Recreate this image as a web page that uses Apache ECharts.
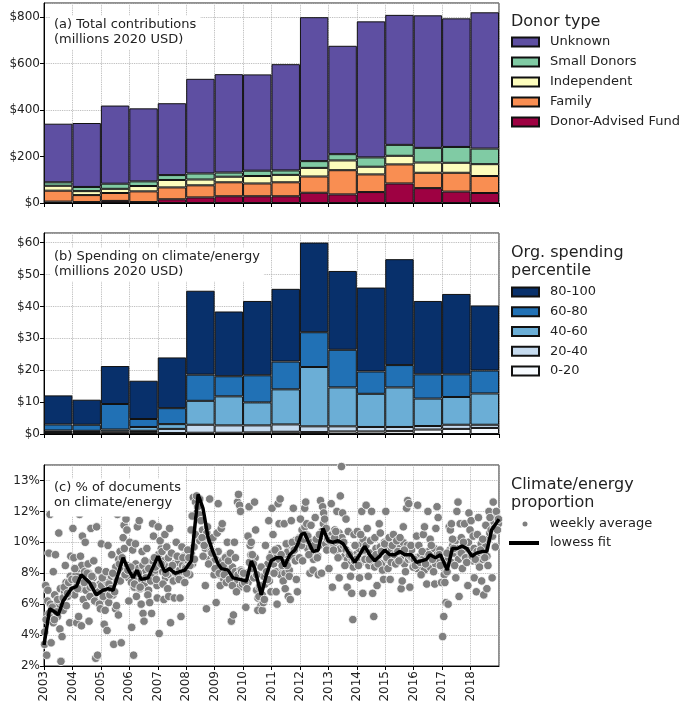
<!DOCTYPE html>
<html><head><meta charset="utf-8">
<script src="https://cdn.jsdelivr.net/npm/echarts@6/dist/echarts.min.js"></script>
<style>html,body{margin:0;padding:0;background:#fff}#c{width:685px;height:713px}</style>
</head><body><div id="c"></div>
<script>
const years = ['2003','2004','2005','2006','2007','2008','2009','2010','2011','2012','2013','2014','2015','2016','2017','2018'];

// Panel (a) Total contributions, millions 2020 USD
const dafVals     = [6, 4, 9, 4, 16, 24, 29, 29, 29, 44, 37, 47, 84, 64, 49, 43];
const familyVals  = [47, 30, 34, 46, 51, 52, 60, 55, 60, 70, 104, 76, 82, 66, 81, 73];
const indepVals   = [21, 17, 18, 23, 32, 25, 24, 32, 32, 37, 42, 33, 37, 44, 43, 51];
const smallVals   = [15, 18, 22, 20, 21, 26, 18, 23, 19, 29, 27, 40, 47, 63, 68, 67];
const unknownVals = [252, 275, 336, 314, 309, 407, 423, 414, 457, 619, 466, 585, 559, 570, 553, 586];

// Panel (b) Spending on climate/energy by org. spending percentile
const p0_20   = [0.2, 0.2, 0.4, 0.6, 0.3, 0.4, 0.4, 0.5, 0.7, 0.6, 0.8, 0.8, 0.9, 1.4, 1.6, 1.9];
const p20_40  = [0.4, 0.4, 0.4, 0.4, 1.3, 2.5, 2.3, 2.2, 2.3, 1.8, 1.6, 1.4, 1.3, 1.1, 1.3, 1.0];
const p40_60  = [0.5, 0.4, 0.6, 1.2, 1.5, 7.5, 9.1, 7.2, 11.0, 18.6, 12.2, 10.4, 12.4, 8.6, 8.7, 9.8];
const p60_80  = [1.9, 1.9, 8.0, 2.5, 5.0, 8.2, 6.3, 8.5, 8.7, 10.9, 11.8, 7.0, 7.0, 7.6, 7.1, 7.2];
const p80_100 = [9.1, 7.85, 11.9, 12.0, 15.9, 26.3, 20.3, 23.3, 22.8, 28.1, 24.7, 26.3, 33.2, 23.0, 25.2, 20.4];

// Panel (c) weekly averages (% of documents on climate/energy), per year, chronological within the year
const weeklyYears = [2003,2004,2005,2006,2007,2008,2009,2010,2011,2012,2013,2014,2015,2016,2017,2018];
const weeklyVals = [
  [3.4,7.2,2.7,6.9,9.3,11.8,3.5,5.8,8.1,5.0,9.2,5.5,6.3,10.6,4.4,2.3,3.9,6.4,7.1,8.5,5.9,6.7,7.4,4.8,9.1,7.6],
  [10.9,9.0,8.3,7.6,4.8,7.0,5.2,11.8,9.1,4.6,10.4,6.3,7.4,10.0,5.9,8.0,8.6,4.9,6.5,10.9,7.8,7.2,8.8,6.2,2.5,11.0,2.7,8.2,6.0,5.7],
  [9.9,7.7,6.5,4.7,5.6,8.1,4.3,9.8,7.3,6.6,7.0,9.2,8.0,3.4,6.8,5.7,5.9,11.8,5.3,8.6,7.5,3.5,9.0,10.3,11.1,7.9,11.5,10.8,8.2,6.2],
  [10.0,8.4,4.5,9.5,2.7,7.3,9.9,6.5,11.0,8.0,11.4,7.1,6.0,9.4,5.4,4.9,8.8,7.7,9.6,6.6,8.3,6.1,7.5,5.4,11.2,10.4,9.0,8.4,7.6,6.4],
  [11.0,4.1,10.1,8.6,9.4,7.3,6.3,10.5,8.0,9.7,7.0,6.5,10.9,4.8,9.3,8.5,7.5,6.4,13.2,10.0,9.1,7.9,7.6,6.4,5.2,9.7,9.0,8.1,7.4,8.3],
  [8.0,9.5,9.0,8.5,10.8,11.7,12.9,8.9,12.6,13.0,12.3,11.8,10.1,11.4,10.3,9.1,9.8,7.2,5.7,11.0,8.6,12.8,10.1,9.3,10.3,7.9],
  [8.3,6.1,10.6,12.5,8.0,7.2,10.9,11.2,8.5,7.9,9.0,7.4,10.0,8.8,7.6,9.3,4.9,7.2,5.3,10.0,9.0,6.8,12.6,13.1,12.4,12.0,8.1,7.3],
  [8.0,7.4,5.8,7.0,10.4,12.3,9.8,10.0,9.2,8.6,12.6,10.8,7.9,5.6,6.5,7.2,8.4,5.6,6.1,6.3,9.8,8.1,7.6,11.4,9.0,6.8],
  [12.2,10.5,8.0,9.5,6.8,6.0,12.5,11.2,12.8,9.2,8.5,7.5,11.2,7.0,9.9,8.5,6.5,7.8,6.3,11.4,10.0,12.2,9.5,8.8,7.6,6.8,10.2,9.0],
  [11.5,9.8,8.8,10.2,12.2,12.6,11.2,10.4,9.2,8.0,11.1,10.0,8.2,9.8,11.6,10.2,9.0,7.9,10.5,12.7,8.0,12.3,11.9,11.5,9.9,9.5,10.2],
  [8.3,10.1,12.5,7.1,9.5,10.3,10.7,12.0,9.0,7.7,13.0,14.9,11.9,10.0,8.5,11.5,7.1,10.7,9.2,7.8,6.7,5.0,10.5,9.8,8.9],
  [10.7,8.5,7.7,10.5,12.0,6.7,9.5,8.9,12.4,10.9,7.8,8.9,10.1,12.0,6.7,5.2,10.3,9.2,7.2,8.6,11.2,10.6,9.4,8.2,7.6,9.9],
  [12.0,9.0,8.3,10.3,7.6,8.7,9.8,10.5,9.2,8.6,10.1,9.4,8.8,10.3,7.0,7.5,11.0,9.5,8.1,12.2,12.7,12.5,7.1,9.8,9.0,8.4],
  [8.9,8.5,10.4,12.4,9.8,8.7,7.9,9.4,10.5,11.0,8.6,7.3,12.0,9.2,10.2,9.8,8.9,8.1,7.3,10.9,12.3,11.6,9.2,8.5,7.4],
  [3.9,5.2,7.4,6.1,9.3,6.0,11.0,10.8,11.2,10.2,9.6,8.5,7.7,12.0,12.6,6.5,11.2,9.3,8.3,10.0,11.2,9.0,8.7,7.2,11.9,10.8],
  [11.4,9.1,10.4,7.7,8.9,6.8,10.5,11.6,8.4,9.5,7.5,10.2,6.6,9.0,11.1,7.0,8.5,12.0,11.6,10.8,7.7,12.6,10.9,9.7,12.0,10.8,11.5]
];
// the denser band of weekly averages lying close to the fit, per year, chronological
const weeklyValsBand = [
  [4.2,5.0,6.2,5.4,6.0,5.1,4.8,6.6,5.9,5.2,6.3,7.0,6.1,5.6,6.8,7.4,6.5,7.2,7.8,6.9],
  [7.5,6.6,7.9,7.2,8.3,7.0,8.5,7.6,8.1,6.9,7.4,8.0,7.1,6.5,7.7,6.3,7.0,6.1,6.8,7.3],
  [7.2,6.4,7.6,6.8,7.4,6.1,7.0,7.8,6.6,7.9,8.4,7.5,8.9,9.4,8.2,8.7,9.6,8.0,8.5,7.7],
  [8.2,7.4,8.0,7.1,8.6,7.8,8.3,7.0,7.6,8.5,7.3,8.1,7.7,6.9,8.4,7.5,8.8,7.9,8.2,7.2],
  [9.2,8.6,9.6,8.1,8.8,7.7,8.4,9.0,7.9,8.3,7.5,8.6,8.0,7.8,8.7,8.2,7.6,8.5,9.1,8.4],
  [8.3,8.8,7.9,9.3,8.6,9.7,10.5,11.9,12.4,12.8,11.6,10.8,10.2,9.6,10.6,9.9,8.9,9.4,8.7,9.1],
  [8.9,8.2,9.4,7.9,8.5,8.8,7.6,8.3,9.1,7.4,8.0,7.7,8.4,7.2,8.1,7.5,7.9,7.1,8.2,7.6],
  [7.6,7.2,8.0,7.4,8.7,9.2,8.3,7.7,9.0,6.9,6.4,7.1,5.9,6.6,7.8,7.3,8.2,8.6,7.5,9.1],
  [9.3,8.6,9.0,8.1,9.6,8.9,7.9,8.4,9.2,8.0,8.7,9.4,8.2,9.8,9.1,9.5,10.1,8.8,9.7,10.3],
  [10.3,10.8,9.9,11.0,10.5,9.6,10.1,9.2,9.7,8.9,9.4,10.0,9.1,9.8,10.4,10.7,11.2,10.6,10.9,10.2],
  [10.2,9.7,10.5,9.9,10.8,9.4,10.1,10.6,9.6,10.3,9.8,9.1,9.5,8.9,9.3,8.6,9.0,8.4,8.8,9.2],
  [9.0,9.6,8.7,9.9,10.2,9.4,9.8,9.1,8.5,9.3,8.8,9.0,8.4,9.6,8.9,9.2,9.7,8.6,9.5,10.0],
  [9.3,8.9,9.7,9.1,9.5,8.7,9.9,9.2,8.8,9.6,9.0,9.4,10.0,8.6,9.3,9.8,8.9,9.1,9.5,8.8],
  [8.6,9.0,8.3,8.8,9.1,8.5,8.9,8.2,9.3,8.7,9.4,8.4,9.0,8.8,9.6,8.6,9.2,8.9,9.5,8.5],
  [8.4,7.9,8.8,8.1,9.0,9.5,8.7,9.8,9.3,10.1,9.6,8.9,9.4,10.3,9.7,9.1,9.9,9.5,10.0,9.2],
  [9.2,8.8,9.6,9.0,9.4,8.7,9.3,9.9,8.9,9.5,9.7,9.1,10.2,10.6,11.0,10.4,11.3,10.8,11.6,11.2]
];

// LOWESS fit
const lowessX = [2003.0,2003.2,2003.38,2003.5,2003.67,2003.96,2004.14,2004.31,2004.6,2004.84,2005.07,2005.25,2005.43,2005.6,2005.78,2005.95,2006.13,2006.27,2006.42,2006.66,2007.01,2007.24,2007.42,2007.6,2007.95,2008.18,2008.42,2008.59,2008.77,2008.94,2009.12,2009.24,2009.47,2009.65,2009.88,2010.12,2010.29,2010.41,2010.64,2010.82,2010.99,2011.17,2011.35,2011.46,2011.64,2011.82,2011.93,2012.05,2012.16,2012.28,2012.46,2012.64,2012.81,2012.99,2013.16,2013.34,2013.52,2013.75,2013.93,2014.1,2014.28,2014.45,2014.63,2014.8,2014.98,2015.16,2015.34,2015.51,2015.69,2015.92,2016.1,2016.27,2016.45,2016.57,2016.77,2016.94,2017.06,2017.18,2017.36,2017.53,2017.7,2017.87,2018.05,2018.2,2018.4,2018.57,2018.74,2019.0];
const lowessY = [3.36,5.7,5.5,5.3,6.2,7.0,7.15,7.9,7.4,6.6,6.9,7.0,6.9,7.9,9.0,8.3,7.7,8.2,7.6,7.7,9.1,8.1,8.3,8.0,8.2,8.8,13.1,12.2,10.3,9.4,8.6,8.3,8.2,7.7,7.6,7.5,8.8,8.3,6.6,7.9,8.8,9.0,9.0,8.45,9.2,9.5,9.9,10.5,10.6,10.1,9.4,9.5,10.9,10.1,10.0,10.1,9.9,9.2,8.7,9.2,9.75,9.2,8.8,9.1,9.5,9.2,9.2,9.4,9.2,9.2,8.7,8.8,8.9,9.2,9.0,9.2,8.7,8.2,9.6,9.6,9.75,9.6,9.1,9.3,9.4,9.4,10.8,11.5];

// Panel (c) y tick labels as printed in the reference
const pctTickLabels = {2:'2%',4:'4%',6:'6%',8:'8%',10:'10%',12:'12%',14:'13%'};

const donorColors = {'Unknown':'#5e4fa2','Small Donors':'#80cba4','Independent':'#fdfdbd','Family':'#f98e52','Donor-Advised Fund':'#9e0142'};
const pctColors = {'80-100':'#08306b','60-80':'#2171b5','40-60':'#6baed6','20-40':'#c6dbef','0-20':'#f7fbff'};

const scatterData = [];
function addYearPoints(sets){
  weeklyYears.forEach((y, k) => {
    const arr = sets[k];
    arr.forEach((v, i) => scatterData.push([y + (i + 0.5) / arr.length, v]));
  });
}
addYearPoints(weeklyValsBand);
addYearPoints(weeklyVals);
const lowessData = lowessX.map((x, i) => [x, lowessY[i]]);

const FONT = 'DejaVu Sans';
const gridLine = {show:true, lineStyle:{type:'dotted', color:'#b0b0b0', width:0.9}};
const tickStyle = {show:true, length:4, inside:false, lineStyle:{color:'#000', width:1}};
const axisLineStyle = {show:true, lineStyle:{color:'#000', width:1}};
const lbl = {color:'#222', fontSize:12, fontFamily:FONT};

const grids = [
  {left:44, top:3, width:455, height:200},
  {left:44, top:233, width:455, height:201},
  {left:44, top:465, width:455, height:201}
].map(g => Object.assign({show:true, borderColor:'#222', borderWidth:1, backgroundColor:'transparent'}, g));

function catX(gi){
  return {type:'category', gridIndex:gi, data:years, boundaryGap:true,
    axisLine:axisLineStyle, axisTick:Object.assign({interval:0}, tickStyle),
    axisLabel:{show:false}, splitLine:Object.assign({interval:0}, gridLine)};
}

function bar(name, data, gi, stack, color){
  return {type:'bar', name, data, xAxisIndex:gi, yAxisIndex:gi, stack,
    barCategoryGap:'0%', barGap:'0%', emphasis:{disabled:true},
    itemStyle:{color, borderColor:'#111', borderWidth:1}};
}

const legendText = {fontSize:13, fontFamily:FONT, color:'#222', lineHeight:16, padding:[0,0,0,6]};
const annot = {fontSize:13, fontWeight:'normal', fontFamily:FONT, color:'#222', lineHeight:15};
const legTitle = {fontSize:16, fontWeight:'normal', fontFamily:FONT, color:'#222', lineHeight:18};

const option = {
  animation:false,
  backgroundColor:'#fff',
  grid: grids,
  title: [
    {text:'(a) Total contributions\n(millions 2020 USD)', left:50, top:15.5, padding:[2,4], backgroundColor:'#fff', textStyle:annot},
    {text:'(b) Spending on climate/energy\n(millions 2020 USD)', left:50, top:247.5, padding:[2,4], backgroundColor:'#fff', textStyle:annot},
    {text:'(c) % of documents\non climate/energy', left:50, top:478.5, padding:[2,4,6,4], backgroundColor:'#fff', textStyle:annot},
    {text:'Donor type', left:511, top:13, padding:0, textStyle:legTitle},
    {text:'Org. spending\npercentile', left:511, top:244, padding:0, textStyle:legTitle},
    {text:'Climate/energy\nproportion', left:511, top:476, padding:0, textStyle:legTitle}
  ],
  legend: [
    {data:['Unknown','Small Donors','Independent','Family','Donor-Advised Fund'], orient:'vertical',
      left:511, top:34, padding:0, itemGap:4, itemWidth:27, itemHeight:9, icon:'rect',
      textStyle:legendText, selectedMode:false},
    {data:['80-100','60-80','40-60','20-40','0-20'], orient:'vertical',
      left:511, top:284, padding:0, itemGap:3.75, itemWidth:27, itemHeight:9, icon:'rect',
      textStyle:legendText, selectedMode:false},
    {data:['weekly average'], orient:'vertical', left:520.5, top:516, padding:0, itemWidth:7, itemHeight:7,
      icon:'circle', textStyle:Object.assign({}, legendText, {padding:[0,0,0,16]}), selectedMode:false},
    {data:['lowess fit'], orient:'vertical', left:509, top:535, padding:0, itemWidth:30, itemHeight:4,
      icon:'rect', textStyle:legendText, selectedMode:false}
  ],
  xAxis: [
    catX(0), catX(1),
    {type:'value', gridIndex:2, min:2003, max:2019, interval:1,
      axisLine:axisLineStyle, axisTick:tickStyle, splitLine:gridLine,
      axisLabel:Object.assign({rotate:90, margin:5, showMaxLabel:false, formatter:v => String(v)}, lbl)}
  ],
  yAxis: [
    {type:'value', gridIndex:0, min:0, max:860, interval:200, axisLine:axisLineStyle, axisTick:tickStyle,
      splitLine:gridLine, axisLabel:Object.assign({showMaxLabel:false, margin:4, formatter:v => '$' + v}, lbl)},
    {type:'value', gridIndex:1, min:0, max:63, interval:10, axisLine:axisLineStyle, axisTick:tickStyle,
      splitLine:gridLine, axisLabel:Object.assign({showMaxLabel:false, margin:4, formatter:v => '$' + v}, lbl)},
    {type:'value', gridIndex:2, min:2, max:15, interval:2, axisLine:axisLineStyle, axisTick:tickStyle,
      splitLine:gridLine, axisLabel:Object.assign({showMaxLabel:false, margin:4, formatter:v => pctTickLabels[v] || ''}, lbl)}
  ],
  series: [
    bar('Donor-Advised Fund', dafVals, 0, 'a', donorColors['Donor-Advised Fund']),
    bar('Family', familyVals, 0, 'a', donorColors['Family']),
    bar('Independent', indepVals, 0, 'a', donorColors['Independent']),
    bar('Small Donors', smallVals, 0, 'a', donorColors['Small Donors']),
    bar('Unknown', unknownVals, 0, 'a', donorColors['Unknown']),
    bar('0-20', p0_20, 1, 'b', pctColors['0-20']),
    bar('20-40', p20_40, 1, 'b', pctColors['20-40']),
    bar('40-60', p40_60, 1, 'b', pctColors['40-60']),
    bar('60-80', p60_80, 1, 'b', pctColors['60-80']),
    bar('80-100', p80_100, 1, 'b', pctColors['80-100']),
    {type:'scatter', name:'weekly average', xAxisIndex:2, yAxisIndex:2, data:scatterData, symbolSize:8.5,
      itemStyle:{color:'#7f7f7f', borderColor:'#fff', borderWidth:0.8, opacity:1}, emphasis:{disabled:true}, z:2},
    {type:'line', name:'lowess fit', xAxisIndex:2, yAxisIndex:2, data:lowessData, showSymbol:false, symbol:'none',
      lineStyle:{color:'#000', width:3.5}, itemStyle:{color:'#000'}, emphasis:{disabled:true}, z:3}
  ]
};

const chart = echarts.init(document.getElementById('c'), null, {renderer:'canvas'});
chart.setOption(option);
</script>
</body></html>
